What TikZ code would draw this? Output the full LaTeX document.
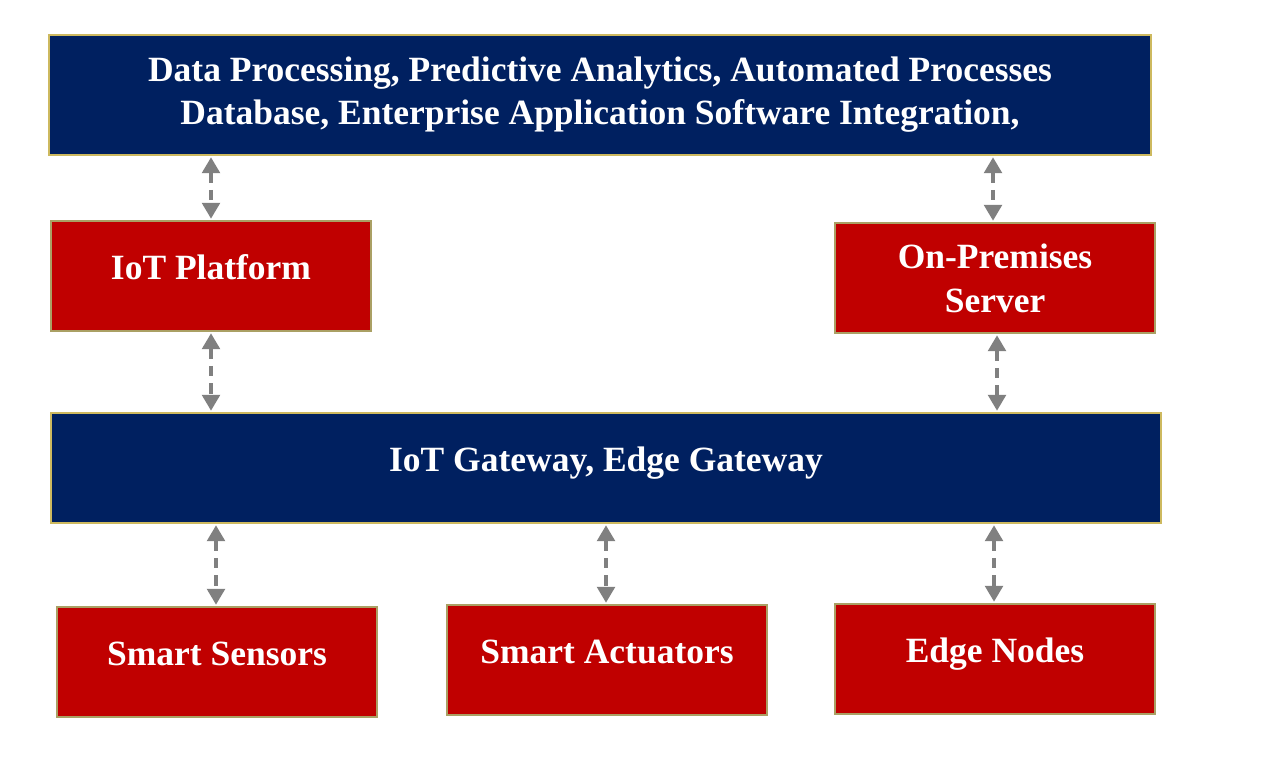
\documentclass[tikz,border=0pt]{standalone}
\usepackage{fontspec}
\setmainfont{Liberation Serif}
\usetikzlibrary{arrows.meta}
\definecolor{navyblue}{HTML}{002060}
\definecolor{darkred}{HTML}{C00000}
\definecolor{goldedge}{RGB}{205,185,95}
\definecolor{oliveedge}{RGB}{170,160,100}
\tikzset{
  layer/.style={fill=navyblue, draw=goldedge, line width=0.6pt, text=white,
    font=\fontsize{20.2}{24.5}\selectfont\bfseries, align=center, inner sep=0pt},
  unit/.style={fill=darkred, draw=oliveedge, line width=0.6pt, text=white,
    font=\fontsize{20.2}{25}\selectfont\bfseries, align=center, inner sep=0pt,
    minimum width=320*0.02cm, minimum height=110*0.02cm},
  raised/.style={text height=14pt, text depth=10.5pt},
  link/.style={gray, line width=2pt, dash pattern=on 6pt off 4pt,
    {Triangle[length=9pt,width=10pt]}-{Triangle[length=9pt,width=10pt]}, shorten <=1pt, shorten >=1pt}
}
\begin{document}
\begin{tikzpicture}[x=0.02cm,y=-0.02cm]
  \useasboundingbox[fill=white] (0,0) rectangle (1280,780);
  % top layer
  \node[layer, minimum width=1102*0.02cm, minimum height=120*0.02cm] (apps) at (600,95)
    {Data Processing, Predictive Analytics, Automated Processes\\Database, Enterprise Application Software Integration,};
  % middle units
  \node[unit, raised] (platform) at (211,276) {IoT Platform};
  \node[unit] (server) at (995,278) {On-Premises\\Server};
  % gateway layer
  \node[layer, raised, minimum width=1110*0.02cm, minimum height=110*0.02cm] (gateway) at (606,468)
    {IoT Gateway, Edge Gateway};
  % field devices
  \node[unit, raised] (sensors) at (217,662) {Smart Sensors};
  \node[unit, raised] (actuators) at (607,660) {Smart Actuators};
  \node[unit, raised] (edge) at (995,659) {Edge Nodes};
  % links
  \draw[link] (apps.south -| platform) -- (platform.north);
  \draw[link] (apps.south -| 993,0) -- (993,0 |- server.north);
  \draw[link] (platform.south) -- (gateway.north -| platform);
  \draw[link] (997,0 |- server.south) -- (997,0 |- gateway.north);
  \draw[link] (gateway.south -| 216,0) -- (216,0 |- sensors.north);
  \draw[link] (gateway.south -| 606,0) -- (606,0 |- actuators.north);
  \draw[link] (gateway.south -| 994,0) -- (994,0 |- edge.north);
\end{tikzpicture}
\end{document}
